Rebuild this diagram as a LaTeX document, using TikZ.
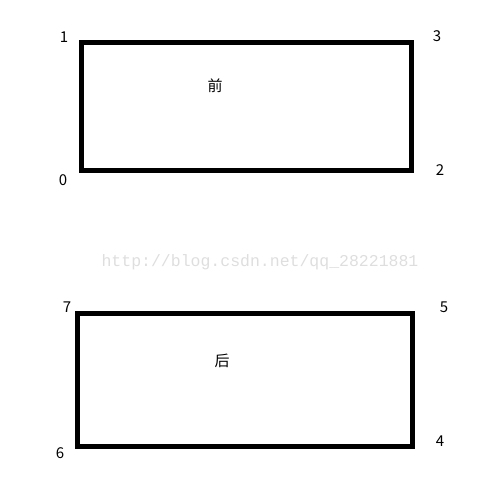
\documentclass[tikz,border=0pt]{standalone}
\usepackage{fontspec}
\setmainfont{Noto Sans CJK SC}
\newfontfamily\markfont{Liberation Mono}
\usetikzlibrary{positioning}
\newcommand{\edgewidth}{5pt}
\newcommand{\labelsize}{\fontsize{15}{17}\selectfont}
\definecolor{markgray}{RGB}{222,222,222}

\begin{document}
\begin{tikzpicture}[x=1pt,y=-1pt]
\useasboundingbox (0,0) rectangle (501,503);
\node[coordinate] (0) at (81,170) {};
\node[coordinate] (1) at (81,43) {};
\node[coordinate] (2) at (411,170) {};
\node[coordinate] (3) at (411,43) {};
\node[coordinate] (4) at (412,446) {};
\node[coordinate] (5) at (412,313) {};
\node[coordinate] (6) at (77,446) {};
\node[coordinate] (7) at (77,313) {};
%front
\draw[line width=\edgewidth] (0) -- (1) -- (3) -- (2) -- cycle;
%back
\draw[line width=\edgewidth] (6) -- (7) -- (5) -- (4) -- cycle;
%labels
\node[font=\labelsize] (l0) at (63,180) {0};
\node[font=\labelsize] (l1) at (64,37) {1};
\node[font=\labelsize] (l2) at (440,170) {2};
\node[font=\labelsize] (l3) at (437,36) {3};
\node[font=\labelsize] (l4) at (440,441) {4};
\node[font=\labelsize] (l5) at (444,307) {5};
\node[font=\labelsize] (l6) at (60,453) {6};
\node[font=\labelsize] (l7) at (67,307) {7};
\node[font=\labelsize] (front) at (215,86) {前};
\node[font=\labelsize] (back) at (222,361) {后};
\node[font=\markfont\fontsize{16.5}{18}\selectfont, text=markgray] (mark) at (260,262) {http://blog.csdn.net/qq\_28221881};
\end{tikzpicture}
\end{document}
